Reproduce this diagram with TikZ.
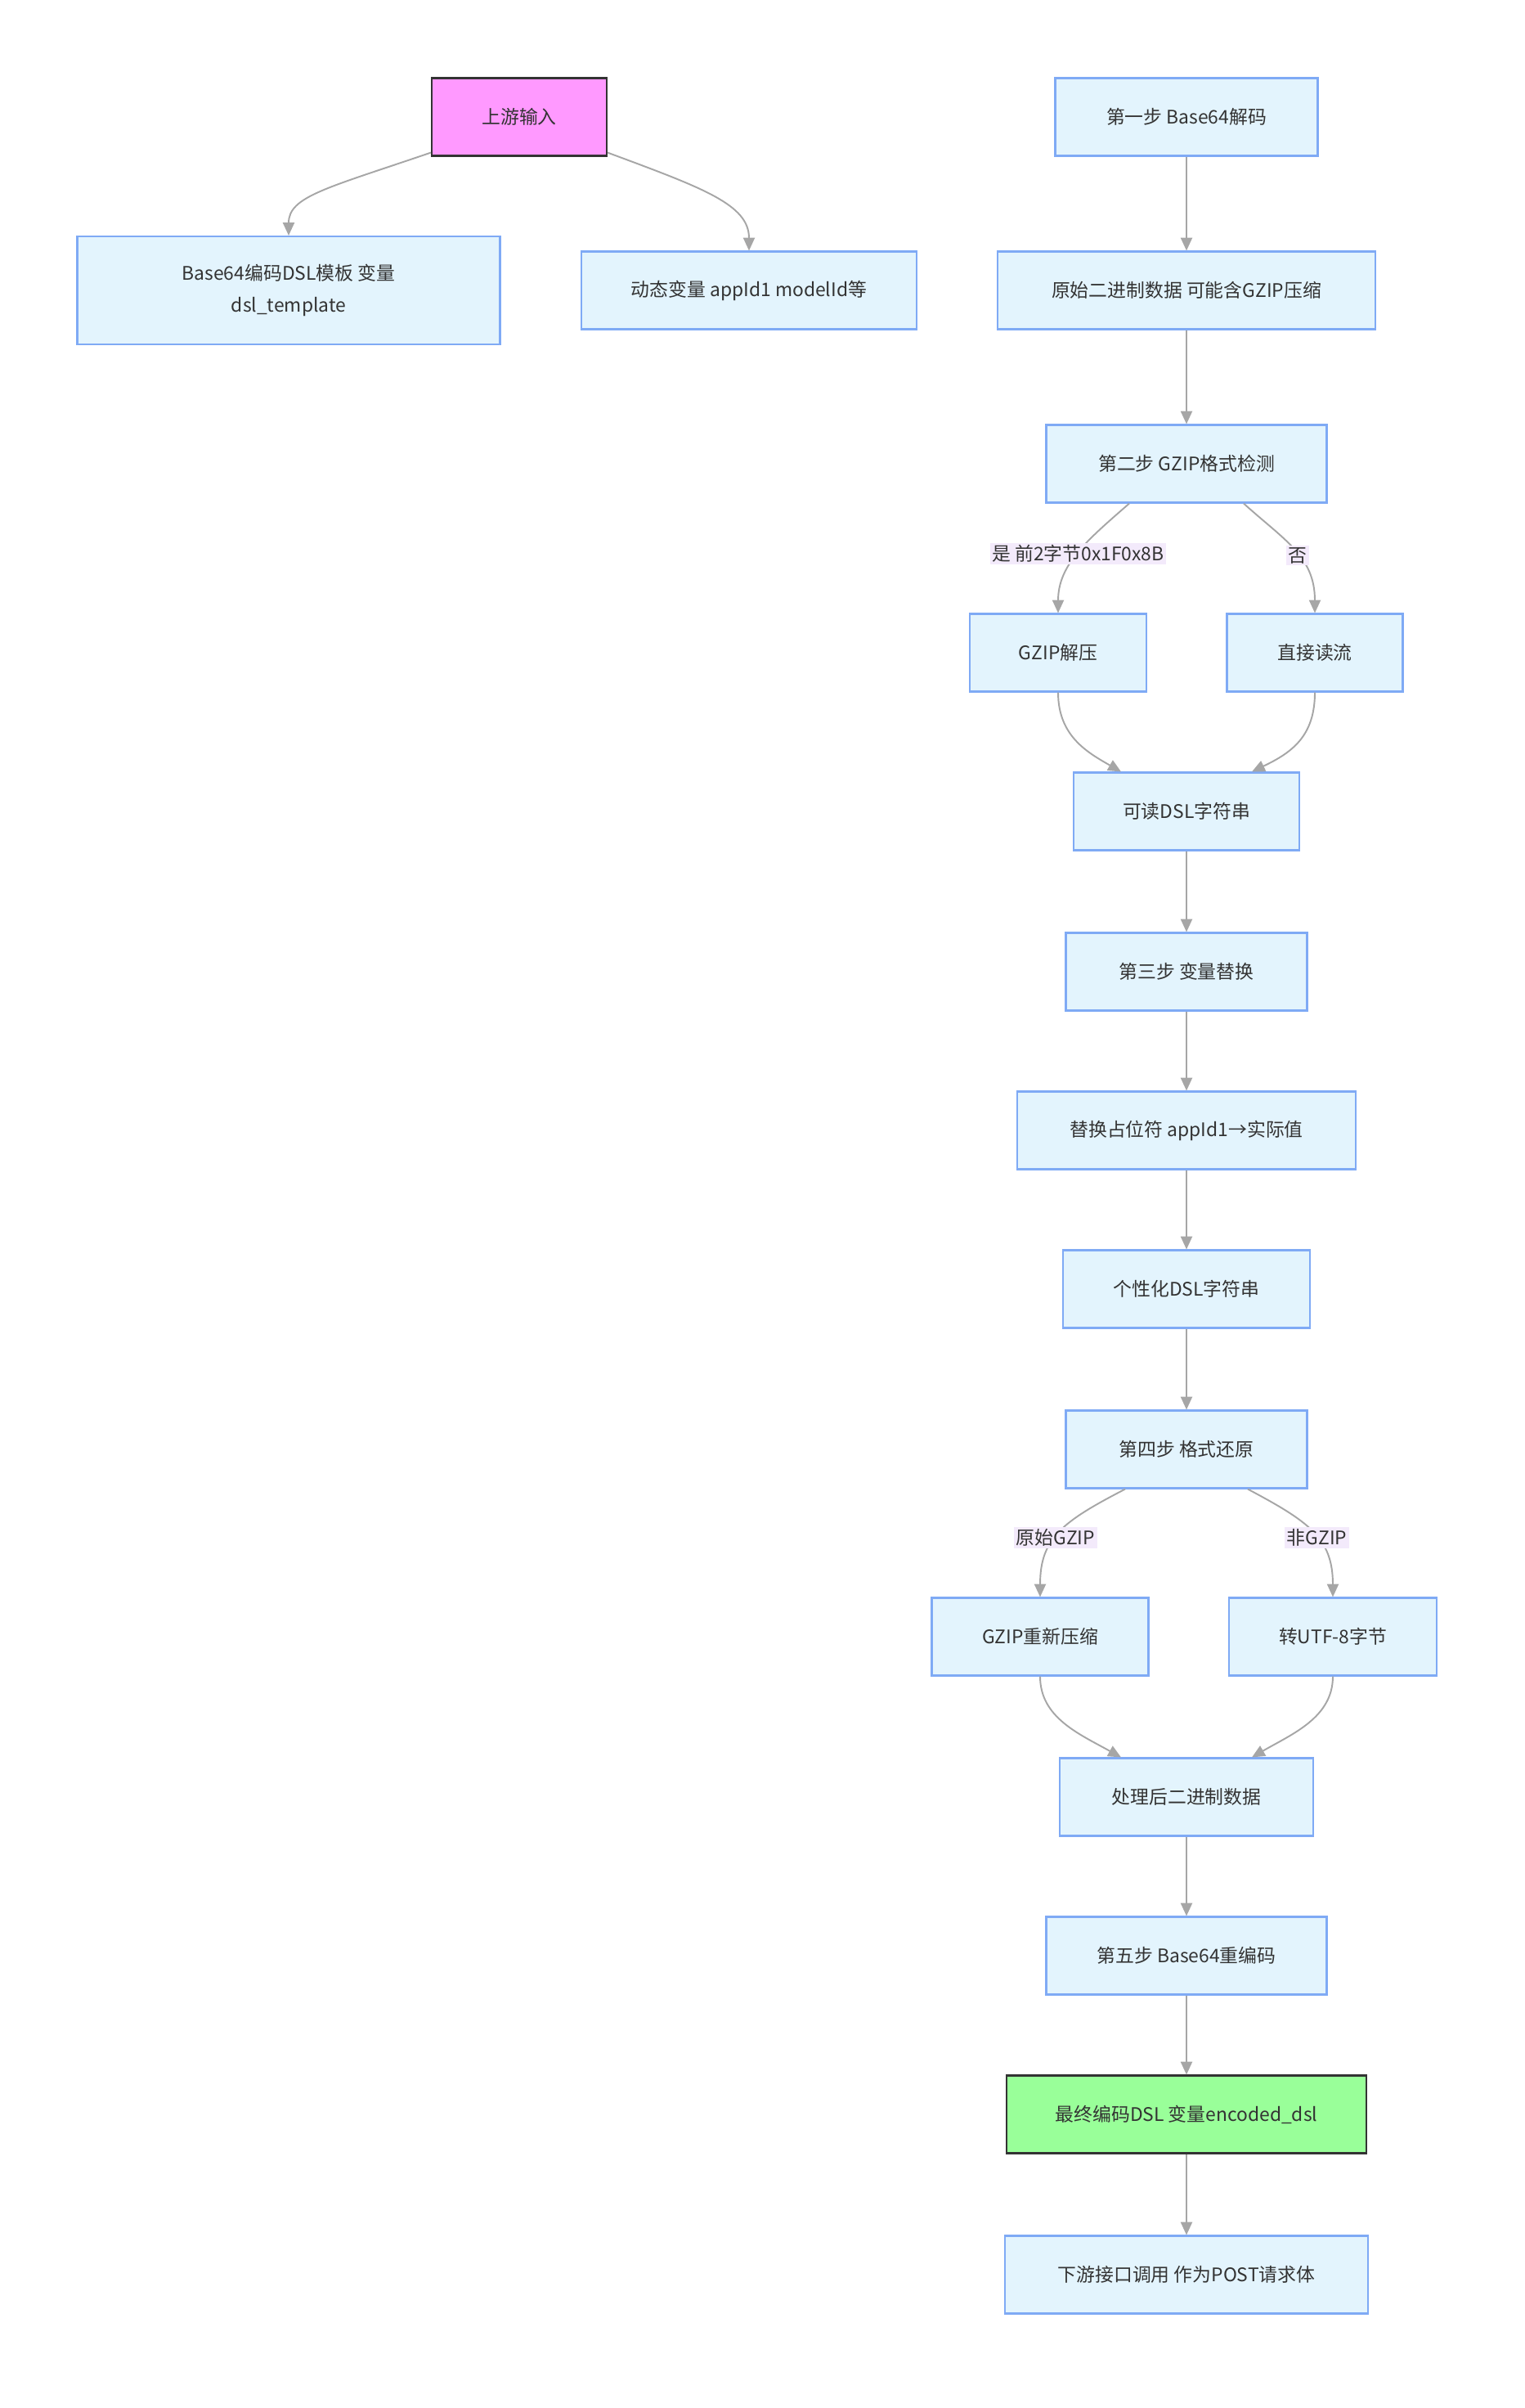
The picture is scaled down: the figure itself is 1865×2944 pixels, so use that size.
\documentclass[tikz,border=0pt]{standalone}
\usepackage{fontspec}
\setmainfont{Noto Sans CJK SC}
\usetikzlibrary{arrows.meta,calc}
\definecolor{bfill}{HTML}{E3F4FD}
\definecolor{bline}{HTML}{7FAAF5}
\definecolor{pinkf}{HTML}{FF99FF}
\definecolor{greenf}{HTML}{99FF99}
\definecolor{edgec}{HTML}{A6A6A6}
\definecolor{lblbg}{HTML}{F3EAFB}
\definecolor{txt}{HTML}{333333}
\tikzset{
  box/.style={draw=bline, fill=bfill, line width=1.2pt, minimum height=95*0.02cm, inner sep=0pt, align=center, text=txt, font=\fontsize{13}{22}\selectfont},
  darkbox/.style={box, draw=txt},
  conn/.style={draw=edgec, line width=1.1pt, -{Triangle[length=9pt,width=8pt,fill=edgec]}},
  lbl/.style={fill=lblbg, text=txt, inner sep=1.5pt, font=\fontsize{13}{16}\selectfont}
}
\begin{document}
\begin{tikzpicture}[x=0.02cm,y=-0.02cm]
\useasboundingbox (0,0) rectangle (1865,2944);
\node[darkbox, fill=pinkf, minimum width=214*0.02cm] (up) at (635,143) {上游输入};
\node[box, minimum width=517*0.02cm, minimum height=132*0.02cm] (b64) at (353,355) {Base64编码DSL模板 变量\\dsl\_template};
\node[box, minimum width=410*0.02cm] (dyn) at (916,355) {动态变量 appId1 modelId等};
\node[box, minimum width=321*0.02cm] (s1) at (1451,143) {第一步 Base64解码};
\node[box, minimum width=462*0.02cm] (raw) at (1451,355) {原始二进制数据 可能含GZIP压缩};
\node[box, minimum width=343*0.02cm] (s2) at (1451,567) {第二步 GZIP格式检测};
\node[box, minimum width=216*0.02cm] (gz) at (1294,798) {GZIP解压};
\node[box, minimum width=215*0.02cm] (rd) at (1608,798) {直接读流};
\node[box, minimum width=276*0.02cm] (dsl) at (1451,992) {可读DSL字符串};
\node[box, minimum width=295*0.02cm] (s3) at (1451,1188) {第三步 变量替换};
\node[box, minimum width=414*0.02cm] (rep) at (1451,1382) {替换占位符 appId1→实际值};
\node[box, minimum width=302*0.02cm] (pers) at (1451,1576) {个性化DSL字符串};
\node[box, minimum width=295*0.02cm] (s4) at (1451,1772) {第四步 格式还原};
\node[box, minimum width=265*0.02cm] (rez) at (1272,2001) {GZIP重新压缩};
\node[box, minimum width=254*0.02cm] (utf) at (1630,2001) {转UTF-8字节};
\node[box, minimum width=310*0.02cm] (proc) at (1451,2197) {处理后二进制数据};
\node[box, minimum width=343*0.02cm] (s5) at (1451,2391) {第五步 Base64重编码};
\node[darkbox, fill=greenf, minimum width=440*0.02cm] (fin) at (1451,2585) {最终编码DSL 变量encoded\_dsl};
\node[box, minimum width=444*0.02cm] (down) at (1451,2781) {下游接口调用 作为POST请求体};
\coordinate (u1) at ($(up.south west)+(0,-5)$);
\coordinate (u2) at ($(up.south east)+(0,-5)$);
\coordinate (a1) at ($(s2.south)+(-70,0)$);
\coordinate (a2) at ($(s2.south)+(70,0)$);
\coordinate (c1) at ($(s4.south)+(-75,0)$);
\coordinate (c2) at ($(s4.south)+(75,0)$);
\coordinate (d1) at ($(dsl.north)+(-80,0)$);
\coordinate (d2) at ($(dsl.north)+(80,0)$);
\coordinate (p1) at ($(proc.north)+(-80,0)$);
\coordinate (p2) at ($(proc.north)+(80,0)$);
\draw[conn] (u1) .. controls (400,230) and (353,240) .. (b64.north);
\draw[conn] (u2) .. controls (860,230) and (916,250) .. (dyn.north);
\draw[conn] (s1) -- (raw);
\draw[conn] (raw) -- (s2);
\draw[conn] (a1) .. controls (1330,660) and (1294,690) .. node[lbl, pos=0.5] {是 前2字节0x1F0x8B} (gz.north);
\draw[conn] (a2) .. controls (1570,660) and (1608,680) .. node[lbl, pos=0.55] {否} (rd.north);
\draw[conn] (gz.south) .. controls (1294,900) and (1330,920) .. (d1);
\draw[conn] (rd.south) .. controls (1608,900) and (1580,920) .. (d2);
\draw[conn] (dsl) -- (s3);
\draw[conn] (s3) -- (rep);
\draw[conn] (rep) -- (pers);
\draw[conn] (pers) -- (s4);
\draw[conn] (c1) .. controls (1300,1860) and (1272,1880) .. node[lbl, pos=0.55] {原始GZIP} (rez.north);
\draw[conn] (c2) .. controls (1600,1860) and (1630,1880) .. node[lbl, pos=0.55] {非GZIP} (utf.north);
\draw[conn] (rez.south) .. controls (1272,2100) and (1320,2120) .. (p1);
\draw[conn] (utf.south) .. controls (1630,2100) and (1580,2120) .. (p2);
\draw[conn] (proc) -- (s5);
\draw[conn] (s5) -- (fin);
\draw[conn] (fin) -- (down);
\end{tikzpicture}
\end{document}
